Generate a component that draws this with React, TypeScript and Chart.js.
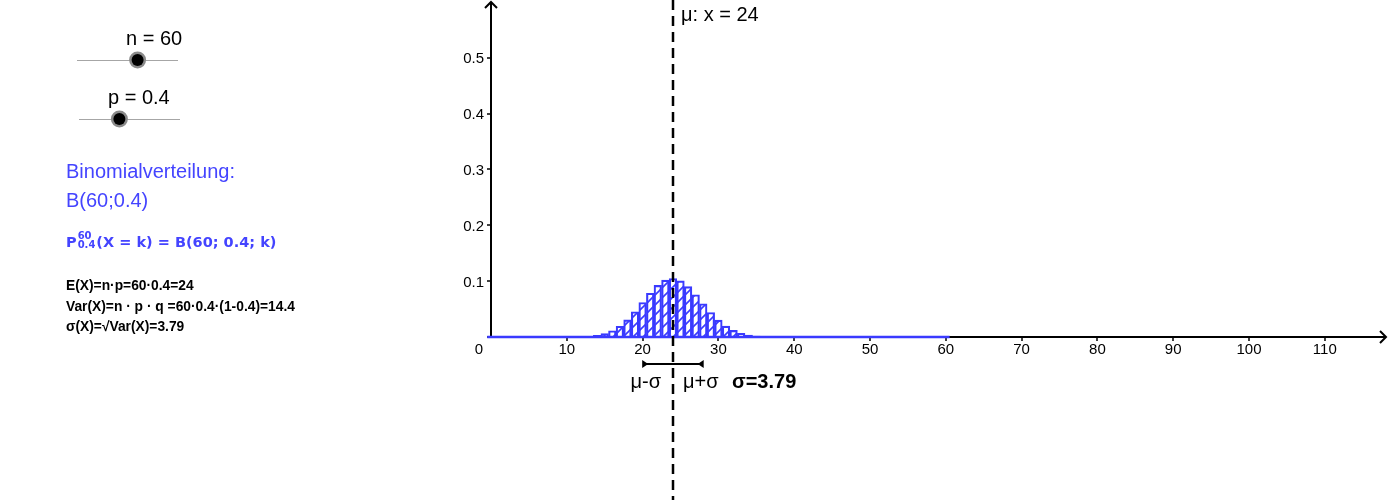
import { useEffect, useRef } from "react";
import { Chart, registerables } from "chart.js";

Chart.register(...registerables);

// ---- data ----
const N = 60;
const P = 0.4;
const MU = 24;
const SIGMA = 3.79;
const N_SLIDER_MAX = 100;
const P_SLIDER_MAX = 1;

const K = [10, 11, 12, 13, 14, 15, 16, 17, 18, 19, 20, 21, 22, 23, 24, 25, 26, 27, 28, 29, 30, 31, 32, 33, 34, 35, 36, 37, 38, 39];
const PROB = [
  0.00006, 0.00019, 0.00053, 0.0013, 0.0029, 0.0059, 0.0111, 0.0192, 0.0306, 0.0451,
  0.0617, 0.0783, 0.0925, 0.1019, 0.1047, 0.1005, 0.0902, 0.0757, 0.0595, 0.0438,
  0.0302, 0.0195, 0.0118, 0.0067, 0.0035, 0.0017, 0.0008, 0.00035, 0.00014, 0.00005,
];
const BASE_X = [-0.5, 60.5];
const X_TICKS = [10, 20, 30, 40, 50, 60, 70, 80, 90, 100, 110];
const X_TICK_LABELS = ["10", "20", "30", "40", "50", "60", "70", "80", "90", "100", "110"];
const Y_TICKS = [0.1, 0.2, 0.3, 0.4, 0.5];
const Y_TICK_LABELS = ["0.1", "0.2", "0.3", "0.4", "0.5"];

const TITLE_1 = "Binomialverteilung:";
const TITLE_2 = "B(60;0.4)";
const FORMULA_REST = "(X = k) = B(60; 0.4; k)";
const STAT_LINES = [
  "E(X)=n·p=60·0.4=24",
  "Var(X)=n · p · q =60·0.4·(1-0.4)=14.4",
  "σ(X)=√Var(X)=3.79",
];

// ---- styles ----
const SANS = '"Liberation Sans", Arial, sans-serif';
const BLUE = "#3a3aff";
const TEXT_BLUE = "#4444ff";

function makeHatch(): CanvasPattern | string {
  const pc = document.createElement("canvas");
  pc.width = 10;
  pc.height = 10;
  const g = pc.getContext("2d");
  if (!g) return "rgba(0,0,0,0)";
  g.strokeStyle = BLUE;
  g.lineWidth = 1.6;
  g.beginPath();
  g.moveTo(-1, 11);
  g.lineTo(11, -1);
  g.moveTo(-1, 1);
  g.lineTo(1, -1);
  g.moveTo(9, 11);
  g.lineTo(11, 9);
  g.stroke();
  return g.createPattern(pc, "repeat") || "rgba(0,0,0,0)";
}

function drawSlider(ctx: CanvasRenderingContext2D, x1: number, x2: number, y: number, frac: number) {
  ctx.strokeStyle = "#a6a6a6";
  ctx.lineWidth = 1;
  ctx.beginPath();
  ctx.moveTo(x1, y + 0.5);
  ctx.lineTo(x2, y + 0.5);
  ctx.stroke();
  const kx = x1 + frac * (x2 - x1);
  ctx.fillStyle = "#8a8a8a";
  ctx.beginPath();
  ctx.arc(kx, y, 8.5, 0, Math.PI * 2);
  ctx.fill();
  ctx.fillStyle = "#000";
  ctx.beginPath();
  ctx.arc(kx, y, 6, 0, Math.PI * 2);
  ctx.fill();
}

const overlay = {
  id: "overlay",
  beforeDatasetsDraw(chart: any) {
    const ctx: CanvasRenderingContext2D = chart.ctx;
    const xs = chart.scales.x;
    const ys = chart.scales.y;
    const x0 = Math.round(xs.getPixelForValue(0));
    const y0 = Math.round(ys.getPixelForValue(0));
    ctx.save();
    ctx.strokeStyle = "#000";
    ctx.lineWidth = 2;
    // x axis
    const xStart = xs.getPixelForValue(BASE_X[0]);
    const xEnd = chart.width - 4;
    ctx.beginPath();
    ctx.moveTo(xStart, y0);
    ctx.lineTo(xEnd, y0);
    ctx.stroke();
    ctx.beginPath();
    ctx.moveTo(xEnd - 6, y0 - 6);
    ctx.lineTo(xEnd, y0);
    ctx.lineTo(xEnd - 6, y0 + 6);
    ctx.stroke();
    // y axis
    const yTop = 2;
    ctx.beginPath();
    ctx.moveTo(x0, y0);
    ctx.lineTo(x0, yTop);
    ctx.stroke();
    ctx.beginPath();
    ctx.moveTo(x0 - 6, yTop + 6);
    ctx.lineTo(x0, yTop);
    ctx.lineTo(x0 + 6, yTop + 6);
    ctx.stroke();
    // ticks
    ctx.lineWidth = 1.5;
    X_TICKS.forEach((v) => {
      const px = Math.round(xs.getPixelForValue(v));
      ctx.beginPath();
      ctx.moveTo(px, y0);
      ctx.lineTo(px, y0 + 4);
      ctx.stroke();
    });
    Y_TICKS.forEach((v) => {
      const py = Math.round(ys.getPixelForValue(v));
      ctx.beginPath();
      ctx.moveTo(x0 - 4, py);
      ctx.lineTo(x0, py);
      ctx.stroke();
    });
    // tick labels
    ctx.fillStyle = "#000";
    ctx.font = `15px ${SANS}`;
    ctx.textBaseline = "alphabetic";
    ctx.textAlign = "center";
    X_TICKS.forEach((v, i) => {
      ctx.fillText(X_TICK_LABELS[i], xs.getPixelForValue(v), y0 + 17);
    });
    ctx.fillText("0", x0 - 12, y0 + 17);
    ctx.textAlign = "right";
    Y_TICKS.forEach((v, i) => {
      ctx.fillText(Y_TICK_LABELS[i], x0 - 7, ys.getPixelForValue(v) + 5.5);
    });
    ctx.restore();
  },
  afterDatasetsDraw(chart: any) {
    const ctx: CanvasRenderingContext2D = chart.ctx;
    const xs = chart.scales.x;
    const ys = chart.scales.y;
    const y0 = Math.round(ys.getPixelForValue(0));
    const xMu = Math.round(xs.getPixelForValue(MU));
    ctx.save();
    // mean dashed line
    ctx.strokeStyle = "#000";
    ctx.lineWidth = 2.5;
    ctx.setLineDash([10, 6]);
    ctx.beginPath();
    ctx.moveTo(xMu, 0);
    ctx.lineTo(xMu, chart.height);
    ctx.stroke();
    ctx.setLineDash([]);
    ctx.fillStyle = "#000";
    ctx.font = `20px ${SANS}`;
    ctx.textAlign = "left";
    ctx.textBaseline = "alphabetic";
    ctx.fillText(`μ: x = ${MU}`, xMu + 8, 21);

    // sigma interval
    const xa = xs.getPixelForValue(MU - SIGMA);
    const xb = xs.getPixelForValue(MU + SIGMA);
    const yb = y0 + 27;
    ctx.lineWidth = 2;
    ctx.beginPath();
    ctx.moveTo(xa, yb);
    ctx.lineTo(xb, yb);
    ctx.stroke();
    ctx.beginPath();
    ctx.moveTo(xa - 2, yb - 4);
    ctx.lineTo(xa + 4, yb);
    ctx.lineTo(xa - 2, yb + 4);
    ctx.closePath();
    ctx.fill();
    ctx.beginPath();
    ctx.moveTo(xb + 2, yb - 4);
    ctx.lineTo(xb - 4, yb);
    ctx.lineTo(xb + 2, yb + 4);
    ctx.closePath();
    ctx.fill();
    ctx.font = `20px ${SANS}`;
    ctx.textAlign = "right";
    ctx.fillText("μ-σ", xMu - 12, yb + 24);
    ctx.textAlign = "left";
    ctx.fillText("μ+σ", xMu + 10, yb + 24);
    ctx.font = `bold 20px ${SANS}`;
    ctx.fillText(`σ=${SIGMA}`, xMu + 59, yb + 24);

    // left panel: sliders
    ctx.font = `20px ${SANS}`;
    ctx.fillStyle = "#000";
    ctx.fillText(`n = ${N}`, 126, 45);
    drawSlider(ctx, 77, 178, 60, N / N_SLIDER_MAX);
    ctx.fillStyle = "#000";
    ctx.fillText(`p = ${P}`, 108, 104);
    drawSlider(ctx, 79, 180, 119, P / P_SLIDER_MAX);

    // titles
    ctx.fillStyle = TEXT_BLUE;
    ctx.font = `20px ${SANS}`;
    ctx.fillText(TITLE_1, 66, 178);
    ctx.fillText(TITLE_2, 66, 207);

    // formula
    const fx = 66;
    const fy = 247;
    ctx.font = `bold 14.5px "DejaVu Sans", sans-serif`;
    ctx.fillText("P", fx, fy);
    const pw = ctx.measureText("P").width;
    ctx.font = `bold 10px "DejaVu Sans", sans-serif`;
    ctx.fillText(String(N), fx + pw + 1, fy - 8);
    ctx.fillText(String(P), fx + pw + 1, fy + 1);
    const sw = ctx.measureText(String(P)).width;
    ctx.font = `bold 14.5px "DejaVu Sans", sans-serif`;
    ctx.fillText(FORMULA_REST, fx + pw + sw + 2, fy);

    // stats
    ctx.fillStyle = "#000";
    ctx.font = `bold 13.8px ${SANS}`;
    const baselines = [290, 311, 331];
    STAT_LINES.forEach((t, i) => ctx.fillText(t, 66, baselines[i]));
    ctx.restore();
  },
};

export default function App() {
  const ref = useRef<HTMLCanvasElement>(null);
  useEffect(() => {
    const canvas = ref.current;
    if (!canvas) return;
    const hatch = makeHatch();
    const chart = new Chart(canvas, {
      type: "bar",
      data: {
        datasets: [
          {
            type: "line",
            data: BASE_X.map((x) => ({ x, y: 0 })),
            borderColor: BLUE,
            borderWidth: 2.5,
            pointRadius: 0,
            order: 2,
          } as any,
          {
            type: "bar",
            data: K.map((k, i) => ({ x: k, y: PROB[i] })),
            backgroundColor: hatch as any,
            borderColor: BLUE,
            borderWidth: 1.5,
            barPercentage: 1,
            categoryPercentage: 1,
            order: 1,
          } as any,
        ],
      },
      options: {
        responsive: false,
        animation: false,
        events: [],
        layout: { padding: 0 },
        plugins: { legend: { display: false }, tooltip: { enabled: false } },
        scales: {
          x: { type: "linear", min: -64.78, max: 118.6, offset: false, display: false },
          y: { type: "linear", min: -0.2919, max: 0.6034, display: false },
        },
      },
      plugins: [overlay],
    });
    return () => chart.destroy();
  }, []);
  return (
    <div style={{ position: "absolute", left: 0, top: 0, width: 1390, height: 500, background: "#fff" }}>
      <canvas ref={ref} width={1390} height={500} style={{ display: "block", width: 1390, height: 500 }} />
    </div>
  );
}
